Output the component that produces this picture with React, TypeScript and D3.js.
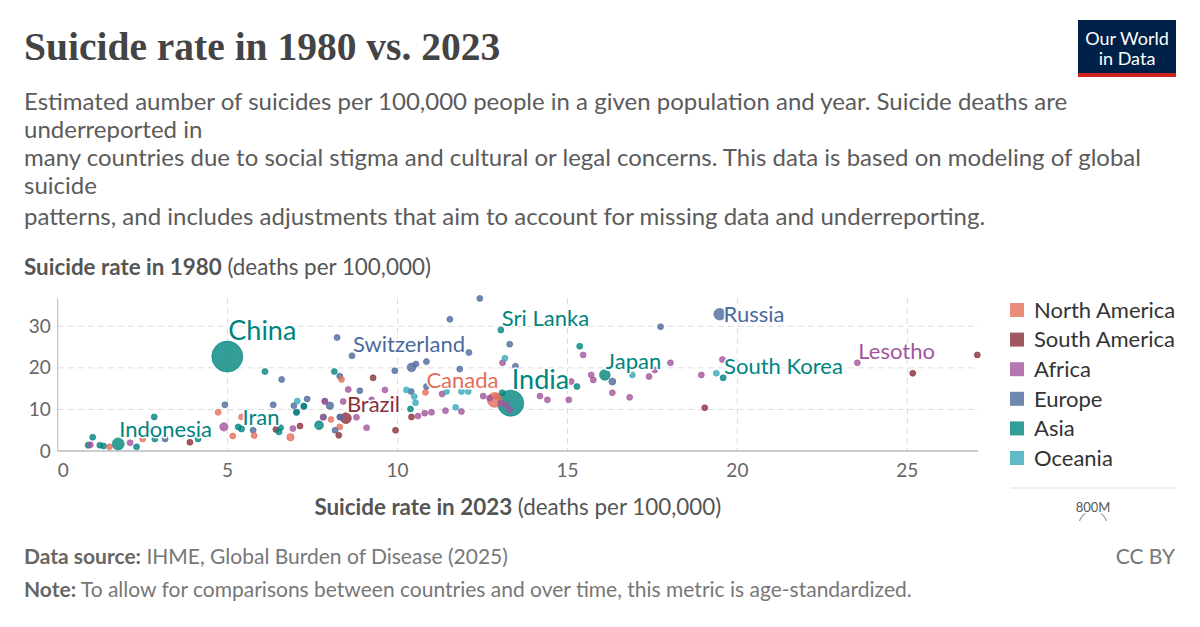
import React from 'react';
import * as d3 from 'd3';

const width = 1200;
const height = 627;
const plot = { left: 57.7, right: 978, top: 298, bottom: 451 };
const sans = "Lato, 'Noto Sans', sans-serif";

// [rate 2023, rate 1980, population 1980 (millions)]
type Pt = [number, number, number];

const regions = ['North America', 'South America', 'Africa', 'Europe', 'Asia', 'Oceania'];
const regionColors = ['#E56E5A', '#883039', '#A2559C', '#4C6A9C', '#00847E', '#38AABA'];

const northAmerica: Pt[] = [
  [1.52, 1.0, 2], [2.5, 2.9, 3], [4.72, 9.3, 2], [5.15, 3.6, 5], [5.41, 8.2, 3],
  [5.78, 3.7, 4], [6.85, 3.3, 55], [8.04, 7.6, 5], [8.3, 5.8, 6], [8.35, 17.2, 1],
  [12.9, 13.1, 3], [12.86, 12.3, 227],
];
const southAmerica: Pt[] = [
  [3.89, 2.1, 3], [6.42, 5.2, 15], [7.13, 6.0, 8], [8.27, 3.8, 3], [9.28, 17.6, 3],
  [9.94, 5.0, 3], [10.41, 8.2, 17], [19.04, 10.4, 1], [25.16, 18.7, 1], [27.06, 23.1, 1],
];
const africa: Pt[] = [
  [0.96, 1.5, 2], [2.13, 2.0, 4], [4.89, 5.8, 70], [6.92, 5.4, 5], [7.81, 8.1, 6],
  [7.86, 11.9, 8], [8.32, 8.1, 8], [8.4, 11.9, 5], [8.55, 14.8, 4], [8.79, 8.1, 7],
  [9.09, 5.6, 5], [9.24, 12.3, 6], [9.63, 14.7, 5], [9.87, 12.4, 5], [10.6, 8.4, 5],
  [10.8, 9.1, 4], [11.0, 9.3, 6], [11.31, 13.7, 5], [11.41, 9.7, 4], [11.88, 9.5, 5],
  [12.52, 13.2, 6], [12.71, 12.7, 7], [13.04, 11.5, 5], [13.2, 11.1, 8], [13.3, 9.9, 6],
  [13.09, 21.2, 3], [14.19, 13.2, 5], [14.41, 12.3, 4], [15.04, 12.3, 5], [15.11, 16.7, 5],
  [15.46, 23.1, 3], [15.7, 18.3, 4], [15.76, 17.1, 5], [16.32, 14.0, 6], [16.83, 12.9, 5],
  [17.4, 17.9, 4], [17.57, 19.5, 3], [18.03, 21.2, 4], [18.94, 18.3, 3], [19.56, 22.0, 2],
];
const europe: Pt[] = [
  [3.16, 2.9, 10], [4.92, 11.1, 8], [5.75, 5.0, 5], [6.34, 11.1, 5], [6.59, 17.2, 5],
  [6.95, 10.9, 10], [7.02, 9.3, 5], [7.25, 10.7, 10], [7.34, 12.5, 8], [7.86, 12.0, 10],
  [8.01, 10.9, 56], [8.16, 5.0, 5], [8.22, 27.3, 5], [8.3, 18.0, 5], [8.3, 8.2, 8],
  [8.89, 14.5, 5], [9.92, 19.3, 10], [10.41, 20.1, 78], [10.54, 20.9, 7], [10.85, 21.5, 5],
  [10.85, 15.5, 8], [10.4, 14.3, 10], [11.54, 31.7, 5], [11.83, 19.7, 35], [12.1, 23.7, 10],
  [12.42, 36.7, 3], [13.3, 25.7, 5], [13.47, 20.4, 10], [16.32, 16.7, 50], [17.74, 29.9, 5],
];
const asia: Pt[] = [
  [0.9, 1.4, 40], [1.03, 3.3, 5], [1.24, 1.4, 8], [1.35, 1.2, 5], [2.32, 1.0, 5],
  [2.84, 8.2, 5], [2.86, 2.9, 5], [4.13, 2.9, 10], [5.31, 5.8, 10], [6.1, 19.1, 5],
  [6.51, 4.6, 8], [6.56, 5.6, 5], [7.03, 9.3, 5], [7.24, 10.8, 5], [7.69, 6.2, 80],
  [7.82, 8.2, 10], [8.14, 19.1, 5], [10.38, 10.1, 10], [13.08, 14.0, 5], [15.28, 15.5, 5],
  [15.36, 25.2, 5],
];
const oceania: Pt[] = [
  [7.05, 12.0, 3], [10.26, 14.7, 3], [10.49, 13.1, 3], [10.53, 11.6, 3], [11.44, 14.3, 3],
  [11.71, 10.5, 3], [11.88, 14.3, 3], [12.08, 14.3, 3], [13.16, 22.3, 3], [16.91, 18.3, 3],
  [19.38, 18.7, 3],
];

// Labelled countries: name, region index, rate 2023, rate 1980, population 1980
const namedCountries: [string, number, number, number, number][] = [
  ['China', 4, 4.99, 22.7, 981],
  ['India', 4, 13.33, 11.5, 697],
  ['Indonesia', 4, 1.78, 1.7, 148],
  ['Iran', 4, 5.41, 5.3, 39],
  ['Sri Lanka', 4, 13.04, 29.1, 15],
  ['Japan', 4, 16.1, 18.3, 117],
  ['South Korea', 4, 19.58, 17.6, 38],
  ['Brazil', 1, 8.48, 7.9, 121],
  ['Canada', 0, 10.82, 14.1, 24],
  ['Switzerland', 3, 8.66, 22.9, 6.3],
  ['Russia', 3, 19.48, 32.9, 139],
  ['Lesotho', 2, 23.53, 21.2, 1.3],
];

const xTicks = [0, 5, 10, 15, 20, 25];
const yTicks = [0, 10, 20, 30];
const sizeLegendValue = 800;

const subtitleLines = [
  'Estimated aumber of suicides per 100,000 people in a given population and year. Suicide deaths are',
  'underreported in',
  'many countries due to social stigma and cultural or legal concerns. This data is based on modeling of global',
  'suicide',
  'patterns, and includes adjustments that aim to account for missing data and underreporting.',
];
const subtitleBaselines = [110, 138, 166, 194, 225];

const xScale = d3.scaleLinear().domain([0, 27.08]).range([plot.left, plot.right]);
const yScale = d3.scaleLinear().domain([0, 36.8]).range([plot.bottom, plot.top]);
const rScale = d3.scaleSqrt().domain([0, 981]).range([0, 15.5]);
const radius = (pop: number) => Math.max(3, rScale(pop));

type Mark = { x: number; y: number; pop: number; region: number; name?: string };

// big bubbles first so the small ones stay visible on top
const marks: Mark[] = [
  ...[northAmerica, southAmerica, africa, europe, asia, oceania].flatMap((pts, region) =>
    pts.map(([x, y, pop]) => ({ x, y, pop, region }))
  ),
  ...namedCountries.map(([name, region, x, y, pop]) => ({ name, region, x, y, pop })),
].sort((a, b) => b.pop - a.pop);

const Grid = () => (
  <g>
    {yTicks.filter(t => t > 0).map(t => (
      <line key={'y' + t} x1={plot.left} x2={plot.right} y1={yScale(t)} y2={yScale(t)}
        stroke="#ddd" strokeDasharray="6,4" />
    ))}
    {xTicks.filter(t => t > 0).map(t => (
      <line key={'x' + t} x1={xScale(t)} x2={xScale(t)} y1={plot.top} y2={plot.bottom}
        stroke="#ddd" strokeDasharray="6,4" />
    ))}
    <line x1={plot.left} x2={plot.left} y1={plot.top} y2={plot.bottom} stroke="#bbb" />
    <line x1={plot.left} x2={plot.right} y1={plot.bottom} y2={plot.bottom} stroke="#999" />
  </g>
);

const AxisLeft = () => (
  <g fontFamily={sans} fontSize={19} fill="#666">
    {yTicks.map(t => (
      <text key={t} x={plot.left - 7} y={yScale(t)} dy=".35em" textAnchor="end">{t}</text>
    ))}
  </g>
);

const AxisBottom = () => (
  <g fontFamily={sans} fontSize={19} fill="#666">
    {xTicks.map(t => (
      <text key={t} x={xScale(t)} y={477} textAnchor={t === 0 ? 'start' : 'middle'}>
        {t}
      </text>
    ))}
  </g>
);

const Marks = () => (
  <g>
    {marks.map((d, i) => (
      <circle key={i} cx={xScale(d.x)} cy={yScale(d.y)} r={radius(d.pop)}
        fill={regionColors[d.region]} fillOpacity={0.8}
        stroke={regionColors[d.region]} strokeWidth={0.6} />
    ))}
  </g>
);

const Labels = () => (
  <g fontFamily={sans}>
    {marks.filter(d => d.name).map(d => {
      const cx = xScale(d.x);
      const cy = yScale(d.y);
      const r = radius(d.pop);
      const fs = d.pop > 500 ? 27 : 22;
      // put the label beside the bubble when there is no room above it
      const beside = cy - r - fs < plot.top;
      return (
        <text key={d.name} x={beside ? cx + r - 2 : cx + 1} y={beside ? cy : cy - r - 1}
          dy={beside ? '.35em' : 0} fontSize={fs} fill={regionColors[d.region]}
          stroke="#fff" strokeWidth={3} paintOrder="stroke" strokeLinejoin="round">
          {d.name}
        </text>
      );
    })}
  </g>
);

const Legend = () => (
  <g fontFamily={sans} fontSize={22} fill="#333">
    {regions.map((name, i) => (
      <g key={name} transform={`translate(1010,${310 + i * 29.6})`}>
        <rect x={0} y={-7} width={14} height={14} fill={regionColors[i]} fillOpacity={0.8} />
        <text x={24} dy=".35em">{name}</text>
      </g>
    ))}
    <line x1={1010} x2={1175} y1={488} y2={488} stroke="#ddd" />
    <clipPath id="size-clip">
      <rect x={1060} y={495} width={70} height={26} />
    </clipPath>
    <circle cx={1093} cy={525} r={rScale(sizeLegendValue)} fill="none" stroke="#999"
      strokeWidth={1.2} clipPath="url(#size-clip)" />
    <text x={1093} y={512} fontSize={13} fill="#555" textAnchor="middle"
      stroke="#fff" strokeWidth={3} paintOrder="stroke">{sizeLegendValue}M</text>
  </g>
);

const Logo = () => (
  <g>
    <rect x={1078} y={20} width={98} height={57} fill="#002147" />
    <rect x={1078} y={73} width={98} height={4} fill="#CE261E" />
    <text x={1127} y={45} fontFamily={sans} fontSize={18} fill="#fff" textAnchor="middle">Our World</text>
    <text x={1127} y={65} fontFamily={sans} fontSize={18} fill="#fff" textAnchor="middle">in Data</text>
  </g>
);

export default function App() {
  return (
    <svg width={width} height={height} style={{ position: 'absolute', left: 0, top: 0, background: '#fff' }}>
      <rect width={width} height={height} fill="#fff" />
      <text x={24} y={60} fontFamily="'Liberation Serif', serif" fontWeight={600} fontSize={39.5} fill="#444">
        Suicide rate in 1980 vs. 2023
      </text>
      <g fontFamily={sans} fontSize={24} fill="#5b5b5b">
        {subtitleLines.map((line, i) => (
          <text key={i} x={24} y={subtitleBaselines[i]}>{line}</text>
        ))}
      </g>
      <text x={24} y={275} fontFamily={sans} fontSize={22.4} fill="#555">
        <tspan fontWeight={700}>Suicide rate in 1980</tspan> (deaths per 100,000)
      </text>
      <Grid />
      <AxisLeft />
      <AxisBottom />
      <Marks />
      <Labels />
      <text x={(plot.left + plot.right) / 2} y={515} fontFamily={sans} fontSize={22.4} fill="#555" textAnchor="middle">
        <tspan fontWeight={700}>Suicide rate in 2023</tspan> (deaths per 100,000)
      </text>
      <Legend />
      <Logo />
      <g fontFamily={sans} fontSize={21} fill="#777">
        <text x={24} y={564}><tspan fontWeight={700} fill="#666">Data source:</tspan> IHME, Global Burden of Disease (2025)</text>
        <text x={1175} y={564} textAnchor="end">CC BY</text>
        <text x={24} y={597}><tspan fontWeight={700} fill="#666">Note:</tspan> To allow for comparisons between countries and over time, this metric is age-standardized.</text>
      </g>
    </svg>
  );
}
